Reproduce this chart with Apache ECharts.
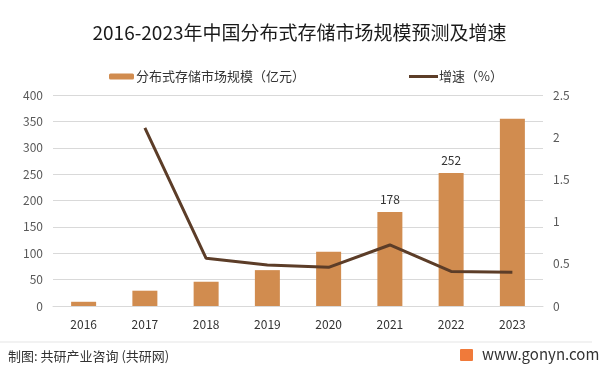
<!DOCTYPE html>
<html><head><meta charset="utf-8">
<script src="https://cdn.jsdelivr.net/npm/echarts@6/dist/echarts.min.js"></script>
<style>html,body{margin:0;padding:0;background:#fff}#c{width:599px;height:375px}</style>
</head><body><div id="c"></div>
<script>
var categories = ['2016','2017','2018','2019','2020','2021','2022','2023'];
var marketSize = [8, 29, 46, 68, 103, 178, 252, 355];
var growth = [null, 2.11, 0.565, 0.486, 0.458, 0.723, 0.41, 0.40];
var labeledYears = ['2021','2022'];
var leftTicks = {min:0, max:400, interval:50};
var rightTicks = {min:0, max:2.5, interval:0.5};

var font = '"Microsoft YaHei","Noto Sans CJK SC",sans-serif';
var chart = echarts.init(document.getElementById('c'));
chart.setOption({
  backgroundColor:'#fff',
  animation:false,
  title:{text:'2016-2023年中国分布式存储市场规模预测及增速', left:'center', top:18,
    textStyle:{fontSize:19, fontWeight:'normal', color:'#1a1a1a', fontFamily:font}},
  legend:[{data:['分布式存储市场规模（亿元）'], left:104, top:65, itemWidth:25, itemHeight:6, itemGap:4,
      textStyle:{fontSize:13, color:'#333', fontFamily:font, padding:[0,0,0,-3]}},
    {data:['增速（%）'], left:404, top:65, itemWidth:29, itemHeight:3,
      icon:'rect', textStyle:{fontSize:13, color:'#333', fontFamily:font, padding:[0,0,0,-4]}}],
  grid:{left:53, right:56, top:95, bottom:69},
  xAxis:{type:'category', data:categories, axisTick:{show:false},
    axisLine:{lineStyle:{color:'#d9d9d9'}},
    axisLabel:{fontSize:12, color:'#333', margin:12, fontFamily:font}},
  yAxis:[{type:'value', min:leftTicks.min, max:leftTicks.max, interval:leftTicks.interval,
      axisLabel:{fontSize:12, color:'#595959', margin:10, fontFamily:font},
      splitLine:{lineStyle:{color:'#d9d9d9'}}, axisLine:{show:false}},
    {type:'value', min:rightTicks.min, max:rightTicks.max, interval:rightTicks.interval,
      axisLabel:{fontSize:12, color:'#595959', margin:10, fontFamily:font},
      splitLine:{show:false}, axisLine:{show:false}}],
  series:[{name:'分布式存储市场规模（亿元）', type:'bar', data:marketSize.map(function(v,i){
        return {value:v, label:{show: labeledYears.indexOf(categories[i])>=0}};
      }), barWidth:25, itemStyle:{color:'#D18C4F'},
      label:{position:'top', fontSize:12, color:'#333', distance:7, fontFamily:font}},
    {name:'增速（%）', type:'line', yAxisIndex:1, data:growth, symbol:'none',
      lineStyle:{width:3, color:'#5C3D28'}, itemStyle:{color:'#5C3D28'}}],
  graphic:[
    {type:'line', shape:{x1:0, y1:342, x2:592, y2:342}, style:{stroke:'#e5e5e5', lineWidth:1}},
    {type:'text', left:8, top:350, style:{text:'制图: 共研产业咨询 (共研网)', fontSize:13, fill:'#333', fontFamily:font}},
    {type:'rect', shape:{x:460, y:349, width:13, height:12, r:1}, style:{fill:'#F07A3A'}},
    {type:'text', left:482, top:347, style:{text:'www.gonyn.com', fontSize:15, fill:'#333', fontFamily:font}}
  ]
});
</script></body></html>
